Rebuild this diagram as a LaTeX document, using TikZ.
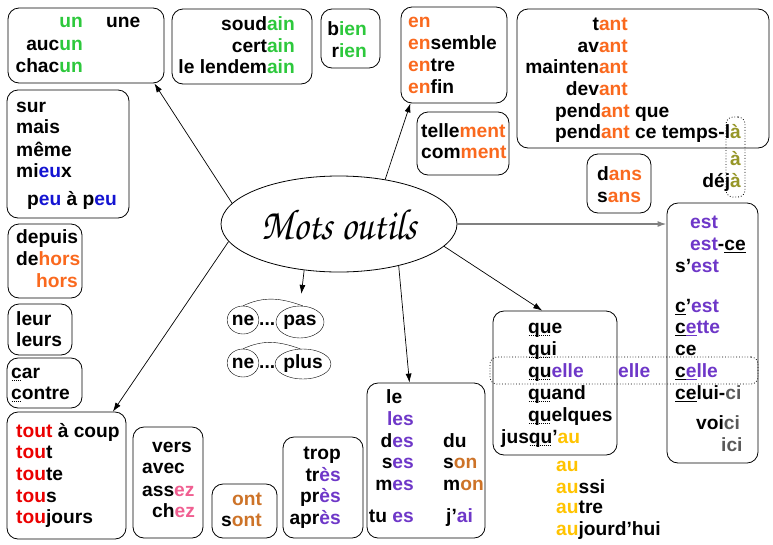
\documentclass[tikz,border=0pt]{standalone}
\usepackage[T1]{fontenc}
\usepackage{fontspec}
\setmainfont{Liberation Sans}
\usetikzlibrary{arrows.meta,shapes.geometric,fit}

\definecolor{vert}{RGB}{45,200,60}
\definecolor{orangeb}{RGB}{250,105,30}
\definecolor{bleu}{RGB}{20,20,210}
\definecolor{rouge}{RGB}{235,0,0}
\definecolor{rose}{RGB}{240,95,145}
\definecolor{brun}{RGB}{205,115,40}
\definecolor{violet}{RGB}{110,55,200}
\definecolor{jaune}{RGB}{255,195,0}
\definecolor{olive}{RGB}{150,150,40}
\definecolor{gris}{RGB}{90,90,90}

\newcommand\cvert[1]{\textcolor{vert}{#1}}
\newcommand\corange[1]{\textcolor{orangeb}{#1}}
\newcommand\cbleu[1]{\textcolor{bleu}{#1}}
\newcommand\crouge[1]{\textcolor{rouge}{#1}}
\newcommand\crose[1]{\textcolor{rose}{#1}}
\newcommand\cbrun[1]{\textcolor{brun}{#1}}
\newcommand\cviolet[1]{\textcolor{violet}{#1}}
\newcommand\cjaune[1]{\textcolor{jaune}{#1}}
\newcommand\colive[1]{\textcolor{olive}{#1}}
\newcommand\cgris[1]{\textcolor{gris}{#1}}
% underlines: solid for c/ce, dotted for qu
\newcommand\souligne[1]{\setbox0\hbox{#1}\rlap{\lower3pt\hbox{\rule{\wd0}{1pt}}}\box0}
\newcommand\pointill[1]{\setbox0\hbox{#1}%
  \rlap{\lower3pt\hbox to\wd0{\leaders\hbox to 2pt{\hss\rule{0.8pt}{0.6pt}\hss}\hfill}}\box0}
\newcommand\chancery{\fontencoding{T1}\fontfamily{pzc}\fontseries{mb}\fontshape{it}\fontsize{38}{38}\selectfont}

\tikzset{
  boite/.style={draw,line width=0.8pt,rounded corners=11pt,inner sep=0pt},
  pointille/.style={draw,dotted,line width=0.8pt,rounded corners=7pt,inner sep=0pt},
  mot/.style={inner sep=0pt,anchor=base west},
  motd/.style={inner sep=0pt,anchor=base east},
  fleche/.style={-{Latex[length=9pt,width=6pt]},line width=0.7pt},
}

\begin{document}
\begin{tikzpicture}[x=1pt,y=-1pt,font=\fontsize{19.2}{22}\selectfont\bfseries]
  \useasboundingbox (0,0) rectangle (773,544);

  % the centre of the map
  \node [draw,ellipse,line width=0.8pt,minimum width=236pt,minimum height=96pt,
    inner sep=0pt,font=\chancery] (mots) at (339,224) {\scalebox{1}[1.15]{Mots outils}};

  % the boxes
  \node [boite,fit={(8,8) (164,83)}] (bUn) {};
  \node [boite,fit={(172,9) (312,84)}] (bAin) {};
  \node [boite,fit={(321,9) (380,68)}] (bIen) {};
  \node [boite,fit={(401,7) (507,103)}] (bEn) {};
  \node [boite,fit={(517,9) (769,148)}] (bAnt) {};
  \node [boite,fit={(417,112) (509,175)}] (bMent) {};
  \node [boite,fit={(587,154) (651,213)}] (bAns) {};
  \node [pointille,fit={(726,117) (745,197)}] (bA) {};
  \node [boite,fit={(7,90) (129,218)}] (bEu) {};
  \node [boite,fit={(8,224) (82,298)}] (bHors) {};
  \node [boite,fit={(8,304) (72,355)}] (bLeur) {};
  \node [boite,fit={(7,358) (82,408)}] (bCar) {};
  \node [boite,fit={(7,412) (126,539)}] (bTou) {};
  \node [boite,fit={(133,427) (203,538)}] (bEz) {};
  \node [boite,fit={(212,484) (277,538)}] (bOnt) {};
  \node [boite,fit={(283,437) (363,538)}] (bTres) {};
  \node [boite,fit={(367,383) (485,538)}] (bLes) {};
  \node [boite,fit={(493,311) (617,455)}] (bQu) {};
  \node [boite,fit={(667,203) (758,463)}] (bEst) {};
  \node [pointille,fit={(490,357) (758,384)}] (bElle) {};

  % un, ain, ien
  \node [motd] (un) at (83,27) {\cvert{un}};
  \node [mot] (une) at (106,27) {une};
  \node [motd] (aucun) at (83,50) {auc\cvert{un}};
  \node [motd] (chacun) at (83,72) {chac\cvert{un}};
  \node [motd] (soudain) at (295,30) {soud\cvert{ain}};
  \node [motd] (certain) at (295,52) {cert\cvert{ain}};
  \node [motd] (lendemain) at (295,73) {le lendem\cvert{ain}};
  \node [motd] (bien) at (367,35) {b\cvert{ien}};
  \node [motd] (rien) at (367,57) {r\cvert{ien}};

  % en, ant, ment, ans, à
  \foreach \n/\y/\t in {en/27/{\corange{en}},ensemble/49/{\corange{en}semble},
      entre/71/{\corange{en}tre},enfin/93/{\corange{en}fin}}
    \node [mot] (\n) at (408,\y) {\t};
  \foreach \n/\y/\t in {tant/30/{t\corange{ant}},avant/52/{av\corange{ant}},
      maintenant/73/{mainten\corange{ant}},devant/95/{dev\corange{ant}}}
    \node [motd] (\n) at (628,\y) {\t};
  \node [mot] (pendantque) at (555,117) {pend\corange{ant} que};
  \node [mot] (pendantce) at (555,138) {pend\corange{ant} ce temps-l\colive{à}};
  \node [mot] (tellement) at (421,137) {telle\corange{ment}};
  \node [mot] (comment) at (421,158) {com\corange{ment}};
  \node [mot] (dans) at (597,180) {d\corange{ans}};
  \node [mot] (sans) at (597,202) {s\corange{ans}};
  \node [motd] (a) at (741,165) {\colive{à}};
  \node [motd] (deja) at (741,187) {déj\colive{à}};

  % left column
  \foreach \n/\y/\t in {sur/112/sur,mais/133/mais,meme/156/même,
      mieux/177/{mi\cbleu{eu}x}}
    \node [mot] (\n) at (16,\y) {\t};
  \node [mot] (peu) at (27,205) {p\cbleu{eu} à p\cbleu{eu}};
  \node [mot] (depuis) at (16,243) {depuis};
  \node [mot] (dehors) at (16,265) {de\corange{hors}};
  \node [motd] (hors) at (78,287) {\corange{hors}};
  \node [mot] (leur) at (16,325) {leur};
  \node [mot] (leurs) at (16,346) {leurs};
  \node [mot] (car) at (11,378) {\pointill{c}ar};
  \node [mot] (contre) at (11,399) {\pointill{c}ontre};

  % bottom row
  \foreach \n/\y/\t in {toutacoup/437/{\crouge{tout} à coup},tout/458/{\crouge{tou}t},
      toute/480/{\crouge{tou}te},tous/502/{\crouge{tou}s},
      toujours/523/{\crouge{tou}jours}}
    \node [mot] (\n) at (16,\y) {\t};
  \node [mot] (vers) at (152,452) {vers};
  \node [mot] (avec) at (142,473) {avec};
  \node [mot] (assez) at (142,496) {ass\crose{ez}};
  \node [mot] (chez) at (152,517) {ch\crose{ez}};
  \node [mot] (ont) at (232,505) {\cbrun{ont}};
  \node [mot] (sont) at (221,526) {s\cbrun{ont}};
  \foreach \n/\y/\t in {trop/459/trop,tres/481/{tr\cviolet{ès}},
      pres/502/{pr\cviolet{ès}},apres/524/{apr\cviolet{ès}}}
    \node [motd] (\n) at (341,\y) {\t};
  \node [mot] (le) at (386,403) {le};
  \foreach \n/\y/\t in {les/425/{\cviolet{les}},des/447/{d\cviolet{es}},
      ses/468/{s\cviolet{es}},mes/490/{m\cviolet{es}},tues/522/{tu \cviolet{es}}}
    \node [motd] (\n) at (414,\y) {\t};
  \node [mot] (du) at (443,447) {du};
  \node [mot] (son) at (443,468) {s\cbrun{on}};
  \node [mot] (mon) at (443,490) {m\cbrun{on}};
  \node [mot] (jai) at (446,522) {j’\cviolet{ai}};

  % qu, au
  \foreach \n/\y/\t in {que/333/{\pointill{qu}e},qui/355/{\pointill{qu}i},
      quelle/377/{\pointill{qu}\cviolet{elle}},quand/399/{\pointill{qu}and},
      quelques/421/{\pointill{qu}elques}}
    \node [mot] (\n) at (528,\y) {\t};
  \node [mot] (jusquau) at (501,443) {jus\pointill{qu}’\cjaune{au}};
  \node [mot] (elle) at (618,377) {\cviolet{elle}};
  \foreach \n/\y/\t in {au/471/{\cjaune{au}},aussi/493/{\cjaune{au}ssi},
      autre/513/{\cjaune{au}tre},aujourdhui/535/{\cjaune{au}jourd’hui}}
    \node [mot] (\n) at (556,\y) {\t};

  % est, c
  \node [mot] (est) at (690,228) {\cviolet{est}};
  \node [mot] (estce) at (690,250) {\cviolet{est}-\souligne{ce}};
  \node [mot] (sest) at (675,272) {s’\cviolet{est}};
  \node [mot] (cest) at (675,312) {\souligne{c}’\cviolet{est}};
  \node [mot] (cette) at (675,333) {\souligne{c}\cviolet{\souligne{e}tte}};
  \node [mot] (ce) at (675,355) {ce};
  \node [mot] (celle) at (675,377) {\souligne{c}\cviolet{\souligne{e}lle}};
  \node [mot] (celui) at (675,399) {\souligne{ce}lui-\cgris{ci}};
  \node [mot] (voici) at (696,429) {voi\cgris{ci}};
  \node [mot] (ici) at (721,451) {\cgris{ici}};

  % ne ... pas, ne ... plus
  \node [draw,ellipse,inner sep=0pt,minimum width=30pt,minimum height=28pt] (ne1) at (243,320) {ne};
  \node [mot] (pts1) at (259,325) {...};
  \node [draw,ellipse,inner sep=0pt,minimum width=48pt,minimum height=32pt] (pas) at (300,322) {pas};
  \draw (ne1.north) to [out=25,in=160] (pas.80);
  \node [draw,ellipse,inner sep=0pt,minimum width=30pt,minimum height=28pt] (ne2) at (243,363) {ne};
  \node [mot] (pts2) at (259,368) {...};
  \node [draw,ellipse,inner sep=0pt,minimum width=54pt,minimum height=30pt] (plus) at (303,364) {plus};
  \draw (ne2.north) to [out=25,in=160] (plus.100);

  % arrows from the centre
  \draw [fleche] (mots.169) -- (bUn.-29);
  \draw [fleche] (mots.44) -- (bEn.228);
  \draw [fleche,gray,line width=1.5pt] (mots.east) -- (mots.east -| bEst.west);
  \draw [fleche] (mots.-12) -- (bQu.100);
  \draw [fleche] (mots.-35) -- (bLes.102);
  \draw [fleche,shorten >=12pt] (mots.-127) -- (pas.north);
  \draw [fleche] (mots.189) -- (bTou.54);
\end{tikzpicture}
\end{document}
